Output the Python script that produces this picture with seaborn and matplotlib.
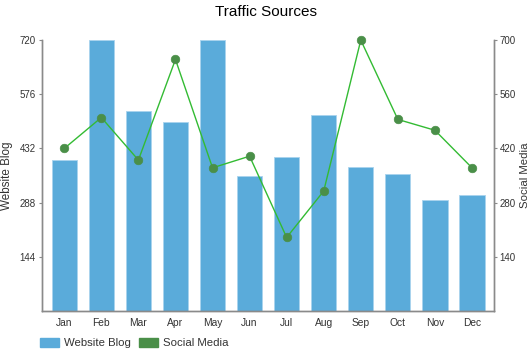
import numpy as np
import pandas as pd
import seaborn as sns
import matplotlib.pyplot as plt
from matplotlib.patches import Patch

months = ["Jan", "Feb", "Mar", "Apr", "May", "Jun", "Jul", "Aug", "Sep", "Oct", "Nov", "Dec"]
website_blog = [400, 720, 532, 502, 720, 360, 410, 522, 384, 365, 295, 308]
social_media = [420, 500, 390, 650, 370, 400, 190, 310, 700, 495, 467, 370]

blog_ticks = [144, 288, 432, 576, 720]
social_ticks = [140, 280, 420, 560, 700]

sns.set_style("white")
plt.rcParams["font.family"] = ["Liberation Sans", "DejaVu Sans"]

bar_col = "#5aabda"
line_col = "#33bb33"
dot_col = "#4a8f48"
grey = "#8a8a8a"
txt = "#333333"

df = pd.DataFrame({"month": months, "pos": np.arange(len(months)),
                   "blog": website_blog, "social": social_media})

fig = plt.figure(figsize=(5.32, 3.55), dpi=100)
ax = fig.add_axes([0.079, 0.124, 0.85, 0.763])

sns.barplot(data=df, x="month", y="blog", color=bar_col, saturation=1,
            width=0.68, edgecolor="#a9d3ee", linewidth=0.6, ax=ax)
ax.set_ylim(0, 720)
ax.set_xlim(-0.6, 11.6)
ax.set_yticks(blog_ticks)
ax.set_ylabel("Website Blog", fontsize=8.4, color=txt)
ax.yaxis.set_label_coords(-0.064, 0.5)
ax.set_xlabel("")

ax2 = ax.twinx()
sns.lineplot(data=df, x="pos", y="social", color=line_col, linewidth=1, ax=ax2)
sns.scatterplot(data=df, x="pos", y="social", color=dot_col, s=38,
                edgecolor=dot_col, zorder=5, clip_on=False, ax=ax2)
ax2.set_ylim(0, 700)
ax2.set_yticks(social_ticks)
ax2.set_ylabel("Social Media", fontsize=8.2, color=txt)
ax2.yaxis.set_label_coords(1.057, 0.5)
ax2.set_xlim(-0.6, 11.6)

for a in (ax, ax2):
    a.spines["top"].set_visible(False)
    for s in ("left", "right", "bottom"):
        a.spines[s].set_color(grey)
        a.spines[s].set_linewidth(1)
    a.tick_params(axis="y", labelsize=7, colors=txt, length=2.5,
                  width=0.8, color=grey, pad=2)
ax2.tick_params(axis="y", pad=1.5)
ax.tick_params(axis="x", labelsize=7.4, colors=txt, length=3,
               width=0.8, color=grey, pad=2)

fig.suptitle("Traffic Sources", fontsize=11, y=0.985, color="black")

handles = [Patch(color=bar_col, label="Website Blog"),
           Patch(color=dot_col, label="Social Media")]
fig.legend(handles=handles, loc="lower left", bbox_to_anchor=(0.055, -0.01),
           ncol=2, frameon=False, fontsize=8.2, handlelength=1.7,
           handleheight=0.9, columnspacing=0.7, handletextpad=0.45,
           labelcolor=txt)

fig.savefig("out.png", dpi=100)
